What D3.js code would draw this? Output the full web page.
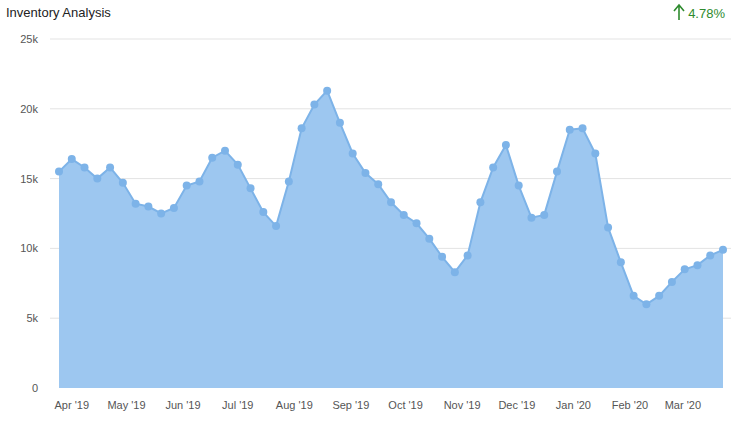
<!DOCTYPE html>
<html>
<head>
<meta charset="utf-8">
<script src="https://cdn.jsdelivr.net/npm/d3@7"></script>
<style>
  body { margin: 0; background: #fff; font-family: "Liberation Sans", Arial, sans-serif; }
</style>
</head>
<body>
<div id="chart"></div>
<script>
// Weekly inventory values, starting week of 25 Mar 2019
const startDate = new Date(2019, 2, 25);
const inventory = [
    15500, 16400, 15800, 15000, 15800, 14700, 13200, 13000, 12500, 12900,
    14500, 14800, 16500, 17000, 16000, 14300, 12600, 11600, 14800, 18600,
    20300, 21300, 19000, 16800, 15400, 14600, 13300, 12400, 11800, 10700,
    9400, 8300, 9500, 13300, 15800, 17400, 14500, 12200, 12400, 15500,
    18500, 18600, 16800, 11500, 9000, 6600, 6000, 6600, 7600, 8500,
    8800, 9500, 9900,
];
const yTicks = [0, 5000, 10000, 15000, 20000, 25000];
const title = "Inventory Analysis";
const change = "4.78%";

const data = inventory.map((v, i) => ({ date: d3.timeDay.offset(startDate, i * 7), value: v }));

const width = 747, height = 422;
const svg = d3.select("#chart").append("svg").attr("width", width).attr("height", height);

const x = d3.scaleTime()
    .domain([data[0].date, data[data.length - 1].date])
    .range([59, 723]);
const y = d3.scaleLinear().domain([0, 25000]).range([388, 39]);

// Gridlines
svg.append("g")
    .selectAll("line")
    .data(yTicks.slice(1))
    .enter()
    .append("line")
    .attr("x1", 50).attr("x2", 731)
    .attr("y1", d => y(d)).attr("y2", d => y(d))
    .attr("stroke", "#e3e3e3");

// Y labels
svg.append("g")
    .selectAll("text")
    .data(yTicks)
    .enter()
    .append("text")
    .attr("x", 38)
    .attr("y", d => y(d) + 4)
    .attr("text-anchor", "end")
    .style("font-size", "11px")
    .style("fill", "#555")
    .text(d => d === 0 ? "0" : d / 1000 + "k");

// Area + line
const area = d3.area().x(d => x(d.date)).y0(y(0)).y1(d => y(d.value));
const line = d3.line().x(d => x(d.date)).y(d => y(d.value));

svg.append("path").datum(data).attr("d", area).attr("fill", "#9dc7f0");
svg.append("path").datum(data).attr("d", line)
    .attr("fill", "none").attr("stroke", "#7db3e8").attr("stroke-width", 2);

svg.append("g")
    .selectAll("circle")
    .data(data)
    .enter()
    .append("circle")
    .attr("cx", d => x(d.date))
    .attr("cy", d => y(d.value))
    .attr("r", 4)
    .attr("fill", "#7db3e8");

// X axis labels (month starts)
const fmt = d3.timeFormat("%b '%y");
svg.append("g")
    .selectAll("text")
    .data(x.ticks(d3.timeMonth.every(1)).filter(d => d >= new Date(2019, 3, 1)))
    .enter()
    .append("text")
    .attr("x", d => x(d))
    .attr("y", 409)
    .attr("text-anchor", "middle")
    .style("font-size", "11px")
    .style("fill", "#555")
    .text(d => fmt(d));

// Header
svg.append("text")
    .attr("x", 6).attr("y", 17)
    .style("font-size", "13px")
    .style("fill", "#222")
    .text(title);

svg.append("text")
    .attr("x", 725).attr("y", 18)
    .attr("text-anchor", "end")
    .style("font-size", "13px")
    .style("fill", "#2e8b2e")
    .text(change);

// Up arrow
svg.append("path")
    .attr("d", "M679,20 L679,6 M674,11 L679,5 L684,11")
    .attr("fill", "none")
    .attr("stroke", "#2e8b2e")
    .attr("stroke-width", 1.6);
</script>
</body>
</html>
